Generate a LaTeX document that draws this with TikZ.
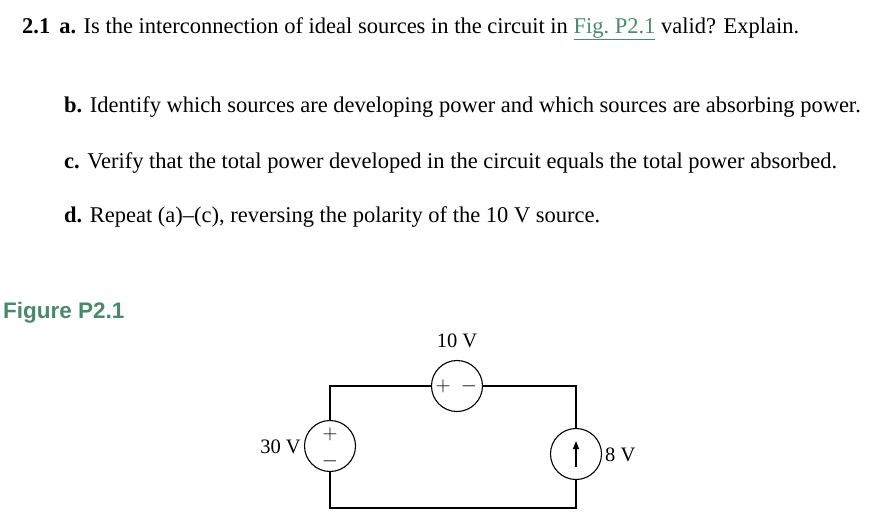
\documentclass[tikz,border=0pt]{standalone}
\usepackage{fontspec}
\setmainfont{Liberation Serif}
\newfontfamily\figfont{Liberation Sans}
\usetikzlibrary{arrows.meta}
\definecolor{figgreen}{HTML}{4A8A6C}
\begin{document}
\begin{tikzpicture}[x=1pt,y=-1pt,
  txt/.style={anchor=base west,inner sep=0pt,font=\fontsize{22.5}{26}\selectfont},
  lbl/.style={inner sep=0pt,font=\fontsize{20.5}{24}\selectfont},
  pm/.style={inner sep=0pt,font=\fontsize{22}{24}\selectfont},
  src/.style={circle,draw,line width=1.1pt,minimum size=51pt,inner sep=0pt},
  wire/.style={line width=1.1pt}]
\useasboundingbox[fill=white] (0,0) rectangle (877,528);
\node[txt] (ta) at (22,33) {\textbf{2.1}\hspace{9pt}\textbf{a.} Is the interconnection of ideal sources in the circuit in \textcolor{figgreen}{\underline{Fig.~P2.1}} valid? Explain.};
\node[txt] (tb) at (64,112) {\textbf{b.} Identify which sources are developing power and which sources are absorbing power.};
\node[txt] (tc) at (64,168) {\textbf{c.} Verify that the total power developed in the circuit equals the total power absorbed.};
\node[txt] (td) at (64,222) {\textbf{d.} Repeat (a)--(c), reversing the polarity of the 10 V source.};
\node[anchor=base west,inner sep=0pt,font=\figfont\bfseries\fontsize{22.5}{26}\selectfont,text=figgreen] (fig) at (3,318) {Figure P2.1};
% circuit
\node[src] (s10) at (457,386) {};
\node[src] (s30) at (330,446) {};
\node[src] (s8) at (576,454) {};
\coordinate (tl) at (330,386);
\coordinate (tr) at (576,386);
\coordinate (bl) at (330,508);
\coordinate (br) at (576,508);
\draw[wire] (s30.north) -- (tl) -- (s10.west);
\draw[wire] (s10.east) -- (tr) -- (s8.north);
\draw[wire] (s8.south) -- (br) -- (bl) -- (s30.south);
\node[pm] (p10) at (443,386) {$+$};
\node[pm] (m10) at (469,386) {$-$};
\node[pm] (p30) at (330,434) {$+$};
\node[pm] (m30) at (330,461) {$-$};
\coordinate (ab) at (576,467);
\coordinate (at) at (576,441);
\draw[line width=1.2pt,-{Triangle[length=8pt,width=6pt]}] (ab) -- (at);
\node[lbl,anchor=base] (l10) at (457,347) {10 V};
\node[lbl,anchor=base east] (l30) at (301,453) {30 V};
\node[lbl,anchor=base west] (l8) at (605,461) {8 V};
\end{tikzpicture}
\end{document}
